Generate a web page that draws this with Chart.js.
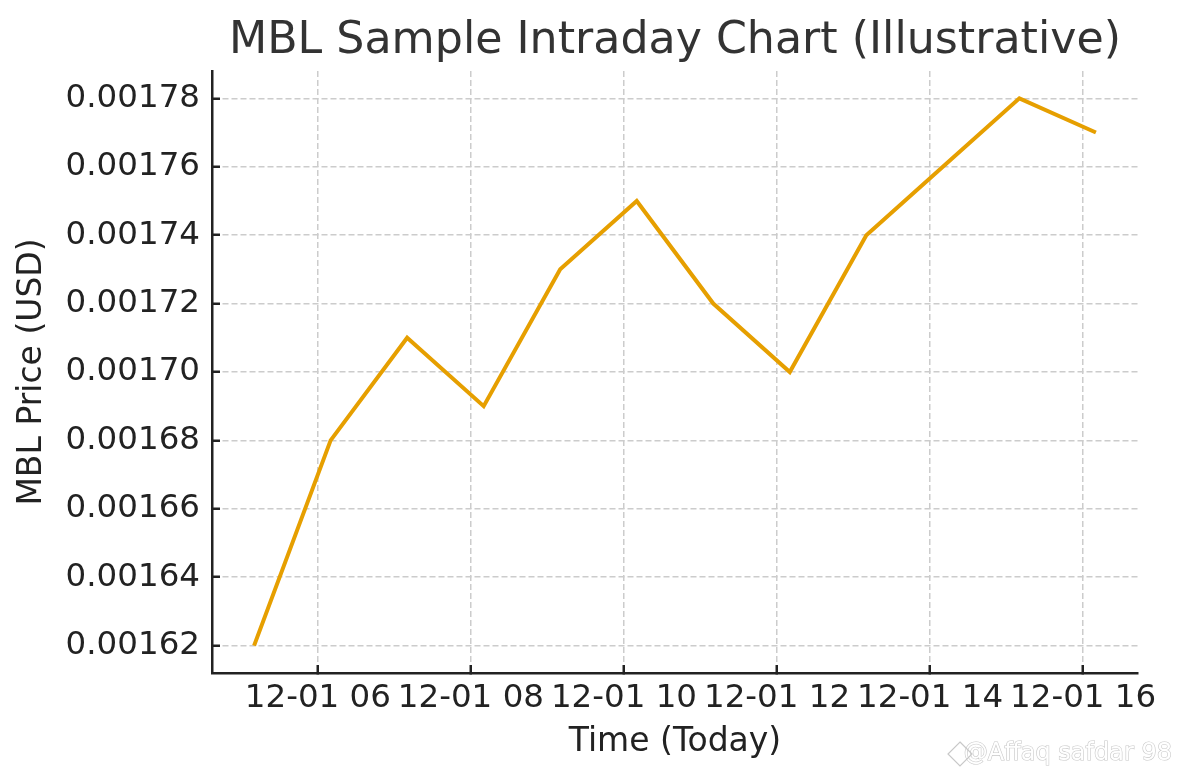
<!DOCTYPE html>
<html>
<head>
<meta charset="utf-8">
<title>MBL Sample Intraday Chart</title>
<script src="https://cdn.jsdelivr.net/npm/chart.js@4.4.1/dist/chart.umd.min.js"></script>
<style>
  html, body { margin: 0; padding: 0; background: #fff; }
  canvas { display: block; }
</style>
</head>
<body>
<canvas id="mblChart" width="1180" height="780"></canvas>
<script>
// Data (hourly samples, "today")
const times = ['05:10', '06:10', '07:10', '08:10', '09:10', '10:10', '11:10', '12:10', '13:10', '14:10', '15:10', '16:10'];
const prices = [0.00162, 0.00168, 0.00171, 0.00169, 0.00173, 0.00175, 0.00172, 0.00170, 0.00174, 0.00176, 0.00178, 0.00177];
const xTickHours = [6, 8, 10, 12, 14, 16];
const yTickValues = [0.00162, 0.00164, 0.00166, 0.00168, 0.00170, 0.00172, 0.00174, 0.00176, 0.00178];
const dayLabel = '12-01';

const toHours = t => {
    const [h, m] = t.split(':').map(Number);
    return h + m / 60;
};
const points = times.map((t, i) => ({ x: toHours(t), y: prices[i] }));

// matplotlib-like 5% margins
const xFirst = points[0].x, xLast = points[points.length - 1].x;
const xPad = (xLast - xFirst) * 0.05;
const yMin = Math.min(...prices), yMax = Math.max(...prices);
const yPad = (yMax - yMin) * 0.05;

const FONT = "'DejaVu Sans', 'Liberation Sans', sans-serif";
const ink = '#222222';

// Faint watermark in the corner
const watermark = {
    id: 'watermark',
    afterDraw(chart) {
        const ctx = chart.ctx;
        ctx.save();
        ctx.font = '24px ' + FONT;
        ctx.textAlign = 'right';
        ctx.textBaseline = 'middle';
        ctx.lineWidth = 1.2;
        ctx.strokeStyle = '#c8c8c8';
        ctx.fillStyle = '#ffffff';
        ctx.strokeText('@Affaq safdar 98', 1172, 754);
        ctx.fillText('@Affaq safdar 98', 1172, 754);
        // small diamond logo
        ctx.beginPath();
        ctx.moveTo(960, 742); ctx.lineTo(972, 754); ctx.lineTo(960, 766); ctx.lineTo(948, 754); ctx.closePath();
        ctx.stroke();
        ctx.restore();
    }
};

new Chart(document.getElementById('mblChart'), {
    type: 'line',
    data: {
        datasets: [{
            label: 'MBL Price (USD)',
            data: points,
            borderColor: '#E69F00',
            borderWidth: 4,
            pointRadius: 0,
            tension: 0,
            fill: false
        }]
    },
    options: {
        responsive: false,
        animation: false,
        devicePixelRatio: 1,
        layout: { padding: { left: 0, right: 42, top: 0, bottom: 0 } },
        plugins: {
            legend: { display: false },
            tooltip: { enabled: false },
            title: {
                display: true,
                text: 'MBL Sample Intraday Chart (Illustrative)',
                fullSize: false,
                color: '#333333',
                font: { family: FONT, size: 44.3, weight: 'normal', lineHeight: 1.2 },
                padding: { top: 15, bottom: 2.8 }
            }
        },
        scales: {
            x: {
                type: 'linear',
                min: xFirst - xPad,
                max: xLast + xPad,
                afterBuildTicks: axis => { axis.ticks = xTickHours.map(v => ({ value: v })); },
                afterFit: axis => { axis.height = 107; },
                ticks: {
                    color: ink,
                    padding: 14.5,
                    maxRotation: 0,
                    autoSkip: false,
                    font: { family: FONT, size: 32.5, lineHeight: 1.2 },
                    callback: v => dayLabel + ' ' + String(v).padStart(2, '0')
                },
                grid: {
                    color: '#cccccc',
                    lineWidth: 1.5,
                    tickColor: ink,
                    tickWidth: 2.5,
                    tickLength: -8
                },
                border: { display: true, color: ink, width: 2.5, dash: [6, 3] },
                title: {
                    display: true,
                    text: 'Time (Today)',
                    color: ink,
                    font: { family: FONT, size: 33, lineHeight: 1.2 },
                    padding: { top: 0, bottom: 17.5 }
                }
            },
            y: {
                type: 'linear',
                min: yMin - yPad,
                max: yMax + yPad,
                afterBuildTicks: axis => { axis.ticks = yTickValues.map(v => ({ value: v })); },
                afterFit: axis => { axis.width = 212; },
                ticks: {
                    color: ink,
                    padding: 20,
                    autoSkip: false,
                    font: { family: FONT, size: 32.5, lineHeight: 1.2 },
                    callback: v => v.toFixed(5)
                },
                grid: {
                    color: '#cccccc',
                    lineWidth: 1.5,
                    tickColor: ink,
                    tickWidth: 2.5,
                    tickLength: -8
                },
                border: { display: true, color: ink, width: 2.5, dash: [6, 3] },
                title: {
                    display: true,
                    text: 'MBL Price (USD)',
                    color: ink,
                    font: { family: FONT, size: 33, lineHeight: 1.2 },
                    padding: { top: 13, bottom: 0 }
                }
            }
        }
    },
    plugins: [watermark]
});
</script>
</body>
</html>
